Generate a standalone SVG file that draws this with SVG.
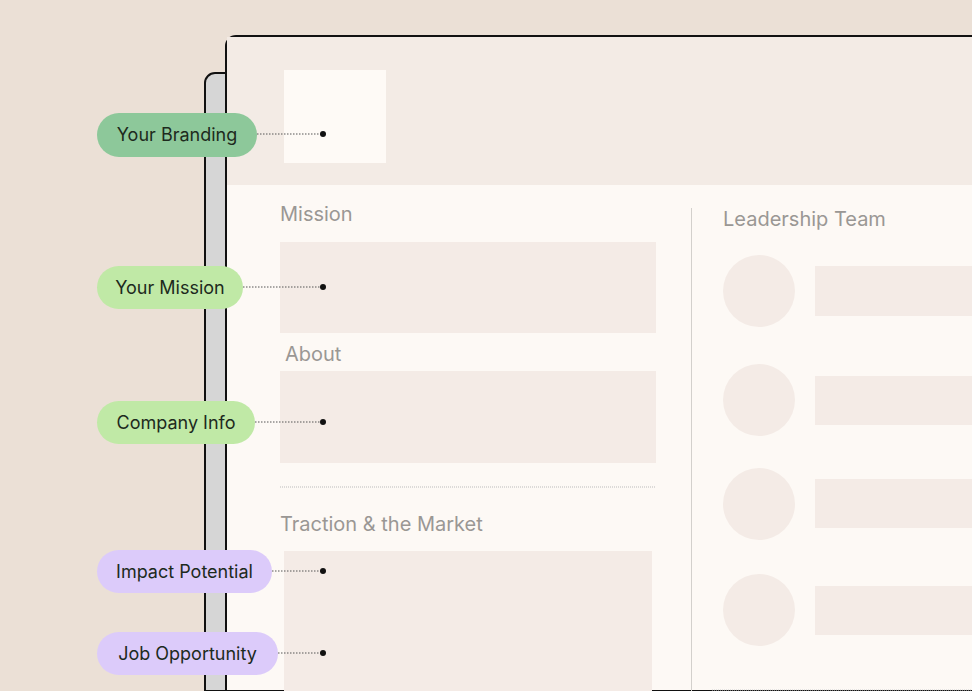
<svg xmlns="http://www.w3.org/2000/svg" width="972" height="691" viewBox="0 0 972 691">
<style>
.pill text{font-family:"Inter","Liberation Sans",sans-serif;font-size:18px;fill:#1d2a1d}
.h{font-family:"Inter","Liberation Sans",sans-serif;font-size:20px;fill:#9a9794}
.ph{fill:#f4ebe6}
.lead{stroke:#555;stroke-width:1;stroke-dasharray:1.5 1.5}
</style>
<rect width="972" height="691" fill="#ebe0d6"/>
<path d="M205 691V83a10 10 0 0 1 10-10h20v618z" fill="#d6d6d6" stroke="#111" stroke-width="2"/>
<path d="M226 691V46a10 10 0 0 1 10-10h740v655z" fill="#fdf9f5" stroke="#111" stroke-width="2"/>
<rect x="227" y="37" width="745" height="148" fill="#f3ebe5"/>
<rect x="284" y="70" width="102" height="93" fill="#fefaf6"/>
<text class="h" x="280" y="221">Mission</text>
<rect class="ph" x="280" y="242" width="376" height="91"/>
<text class="h" x="285" y="361">About</text>
<rect class="ph" x="280" y="371" width="376" height="92"/>
<line x1="280" y1="487" x2="655" y2="487" stroke="#bbb" stroke-width="1" stroke-dasharray="1 1"/>
<text class="h" x="280" y="531">Traction &amp; the Market</text>
<rect class="ph" x="284" y="551" width="368" height="140"/>
<line x1="691.500" y1="208" x2="691.500" y2="691" stroke="#d3d0cc" stroke-width="1"/>
<text class="h" x="723" y="226">Leadership Team</text>
<g class="ph">
<circle cx="759" cy="291" r="36"/><rect x="815" y="266" width="157" height="50"/>
<circle cx="759" cy="400" r="36"/><rect x="815" y="376" width="157" height="49"/>
<circle cx="759" cy="504" r="36"/><rect x="815" y="479" width="157" height="49"/>
<circle cx="759" cy="610" r="36"/><rect x="815" y="586" width="157" height="49"/>
</g>
<line x1="712" y1="690" x2="972" y2="690" stroke="#ccc" stroke-dasharray="1 1"/>
<g id="connectors">
<line class="lead" x1="257" y1="134" x2="323" y2="134"/><circle cx="323" cy="134" r="3" fill="#111"/>
<line class="lead" x1="243" y1="287" x2="323" y2="287"/><circle cx="323" cy="287" r="3" fill="#111"/>
<line class="lead" x1="255" y1="422" x2="323" y2="422"/><circle cx="323" cy="422" r="3" fill="#111"/>
<line class="lead" x1="272" y1="571" x2="323" y2="571"/><circle cx="323" cy="571" r="3" fill="#111"/>
<line class="lead" x1="278" y1="653" x2="323" y2="653"/><circle cx="323" cy="653" r="3" fill="#111"/>
</g>
<g id="branding" class="pill"><rect x="97" y="113" width="160" height="44" rx="22" fill="#8dc89a"/><text x="177" y="141" text-anchor="middle">Your Branding</text></g>
<g id="mission" class="pill"><rect x="97" y="266" width="146" height="43" rx="21.500" fill="#c0e9a6"/><text x="170" y="294" text-anchor="middle">Your Mission</text></g>
<g id="company" class="pill"><rect x="97" y="401" width="158" height="43" rx="21.500" fill="#c0e9a6"/><text x="176" y="429" text-anchor="middle">Company Info</text></g>
<g id="impact" class="pill"><rect x="97" y="550" width="175" height="43" rx="21.500" fill="#dccbfa"/><text x="184.500" y="578" text-anchor="middle">Impact Potential</text></g>
<g id="job" class="pill"><rect x="97" y="632" width="181" height="43" rx="21.500" fill="#dccbfa"/><text x="187.500" y="660" text-anchor="middle">Job Opportunity</text></g>
</svg>
